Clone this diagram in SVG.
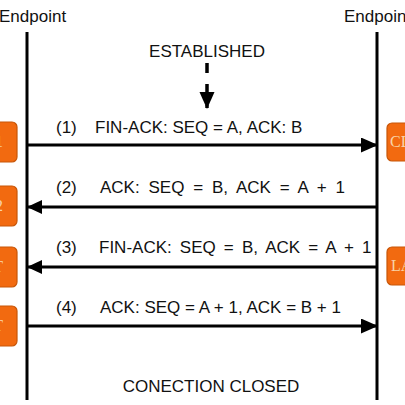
<svg xmlns="http://www.w3.org/2000/svg" width="405" height="405" viewBox="0 0 405 405">
<defs>
<style>
.t{font-family:"Liberation Sans",Arial,sans-serif;font-size:17px;fill:#111}
.st{font-family:"Liberation Serif","Times New Roman",serif;font-size:16px;fill:#F8D3A8}
.box{fill:#F26A10;stroke:#C75608;stroke-width:1.2}
.life{stroke:#000;stroke-width:3}
.msg{stroke:#000;stroke-width:3.2;fill:none}
</style>
<marker id="ah" markerWidth="17" markerHeight="15" refX="16" refY="7.5" orient="auto" markerUnits="userSpaceOnUse">
<path d="M0,0 L17,7.5 L0,15 Z" fill="#000"/>
</marker>
<marker id="ah2" markerWidth="15" markerHeight="14" refX="14" refY="7" orient="auto" markerUnits="userSpaceOnUse">
<path d="M0,0 L15,7 L0,14 Z" fill="#000"/>
</marker>
</defs>
<rect width="405" height="405" fill="#fff"/>

<g id="endpoint-left">
<text class="t" x="-1" y="22">Endpoint</text>
<line class="life" x1="27" y1="32" x2="27" y2="400"/>
</g>
<g id="endpoint-right">
<text class="t" x="344" y="22">Endpoint</text>
<line class="life" x1="377" y1="32" x2="377" y2="400"/>
</g>

<g id="state-l1"><rect class="box" x="-20" y="122" width="37" height="40" rx="5"/><text class="st" x="3" y="147" text-anchor="end">FIN_WAIT_1</text></g>
<g id="state-l2"><rect class="box" x="-20" y="186" width="37" height="40" rx="5"/><text class="st" x="3" y="211" text-anchor="end">FIN_WAIT_2</text></g>
<g id="state-l3"><rect class="box" x="-20" y="247" width="37" height="40" rx="5"/><text class="st" x="3" y="272" text-anchor="end">TIME_WAIT</text></g>
<g id="state-l4"><rect class="box" x="-20" y="306" width="37" height="40" rx="5"/><text class="st" x="3" y="331" text-anchor="end">TIME_WAIT</text></g>
<g id="state-r1"><rect class="box" x="387" y="123" width="40" height="38" rx="5"/><text class="st" x="390" y="147">CLOSE_WAIT</text></g>
<g id="state-r2"><rect class="box" x="387" y="247" width="40" height="38" rx="5"/><text class="st" x="391" y="271">LAST_ACK</text></g>

<g id="established">
<text class="t" x="207" y="57" text-anchor="middle">ESTABLISHED</text>
</g>
<g id="closed">
<text class="t" x="211" y="392" text-anchor="middle">CONECTION CLOSED</text>
</g>

<g id="labels">
<text class="t" x="56" y="133">(1)</text><text class="t" x="95" y="133">FIN-ACK: SEQ = A, ACK: B</text>
<text class="t" x="56" y="193">(2)</text><text class="t" x="100" y="193" word-spacing="4.1">ACK: SEQ = B, ACK = A + 1</text>
<text class="t" x="56" y="253">(3)</text><text class="t" x="99" y="253" word-spacing="3.4">FIN-ACK: SEQ = B, ACK = A + 1</text>
<text class="t" x="56" y="313">(4)</text><text class="t" x="100" y="313">ACK: SEQ = A + 1, ACK = B + 1</text>
</g>

<g id="connectors">
<line x1="207" y1="63" x2="207" y2="108" stroke="#000" stroke-width="3.5" stroke-dasharray="10,11" />
<path d="M199.5,92 L214.5,92 L207,109 Z" fill="#000"/>
<line class="msg" x1="27" y1="145" x2="377" y2="145" marker-end="url(#ah)"/>
<line class="msg" x1="377" y1="207" x2="28" y2="207" marker-end="url(#ah2)"/>
<line class="msg" x1="377" y1="267" x2="28" y2="267" marker-end="url(#ah2)"/>
<line class="msg" x1="27" y1="326" x2="377" y2="326" marker-end="url(#ah)"/>
</g>
</svg>
